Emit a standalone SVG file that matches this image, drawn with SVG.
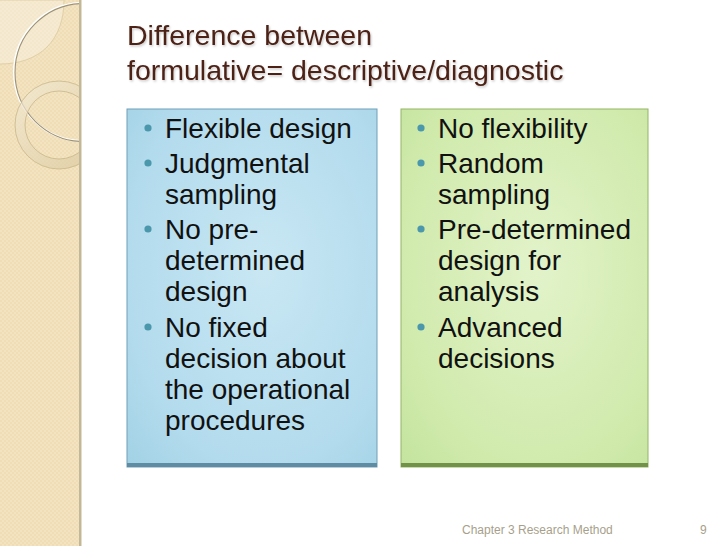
<svg xmlns="http://www.w3.org/2000/svg" width="728" height="546" viewBox="0 0 728 546">
  <defs>
    <pattern id="dots" width="4" height="4" patternUnits="userSpaceOnUse">
      <rect width="4" height="4" fill="#f3e3bf"/>
      <circle cx="1" cy="1" r="0.8" fill="#e9d6ab"/>
      <circle cx="3" cy="3" r="0.8" fill="#e9d6ab"/>
    </pattern>
    <radialGradient id="blueG" cx="0.55" cy="0.45" r="0.8">
      <stop offset="0" stop-color="#c9e7f3"/>
      <stop offset="0.7" stop-color="#b2dbed"/>
      <stop offset="1" stop-color="#a0d0e4"/>
    </radialGradient>
    <radialGradient id="greenG" cx="0.55" cy="0.45" r="0.8">
      <stop offset="0" stop-color="#e2f3ca"/>
      <stop offset="0.7" stop-color="#d0eaac"/>
      <stop offset="1" stop-color="#c2e39c"/>
    </radialGradient>
    <linearGradient id="ringG" x1="0" y1="0" x2="1" y2="1">
      <stop offset="0" stop-color="#f4ecd8"/>
      <stop offset="1" stop-color="#d9c699"/>
    </linearGradient>
    <filter id="tshadow" x="-5%" y="-20%" width="110%" height="150%">
      <feDropShadow dx="1" dy="1.5" stdDeviation="1" flood-color="#000" flood-opacity="0.22"/>
    </filter>
    <clipPath id="stripClip"><rect x="0" y="0" width="80" height="546"/></clipPath>
  </defs>
  <style>
    .body { font-family: "Liberation Sans", Arial, sans-serif; font-size: 28px; fill: #111; }
    .title { font-family: "Liberation Sans", Arial, sans-serif; font-size: 28.5px; fill: #4e2318; }
    .foot { font-family: "Liberation Sans", Arial, sans-serif; font-size: 12px; fill: #a79f8b; }
    .bullet { fill: #4b98ad; }
  </style>

  <rect width="728" height="546" fill="#ffffff"/>

  <g id="sidebar">
    <rect x="0" y="0" width="80" height="546" fill="url(#dots)"/>
    <g clip-path="url(#stripClip)">
      <path d="M0,0 H64 C64,40 40,64 0,64 Z" fill="#ffffff" fill-opacity="0.3"/>
      <path d="M0,0 H64 C64,40 40,64 0,64" fill="none" stroke="#e0cfa6" stroke-width="1"/>
      <circle cx="83" cy="72" r="69" fill="none" stroke="#ffffff" stroke-width="2"/>
      <circle cx="84" cy="72.5" r="69" fill="none" stroke="#9e9276" stroke-width="1.1"/>
      <path fill-rule="evenodd" fill="url(#ringG)" fill-opacity="0.7" stroke="#c9b68a" stroke-width="0.8" d="M15,125 a44,44 0 1,0 88,0 a44,44 0 1,0 -88,0 Z M25,125 a34,34 0 1,0 68,0 a34,34 0 1,0 -68,0 Z"/>
    </g>
    <rect x="79" y="0" width="2" height="546" fill="#c2b796"/>
    <rect x="81" y="0" width="1" height="546" fill="#e2dccb"/>
  </g>

  <g id="title" filter="url(#tshadow)">
    <text class="title" x="127" y="45">Difference between</text>
    <text class="title" x="127" y="80">formulative= descriptive/diagnostic</text>
  </g>

  <g id="box-left">
    <rect x="127" y="109" width="250" height="358" fill="url(#blueG)" stroke="#6f9fb6" stroke-width="1"/>
    <rect x="127" y="463" width="250" height="4" fill="#5f8ca3"/>
    <circle class="bullet" cx="148" cy="128" r="3.6"/>
    <text class="body" x="165" y="138">Flexible design</text>
    <circle class="bullet" cx="148" cy="163" r="3.6"/>
    <text class="body" x="165" y="173">Judgmental</text>
    <text class="body" x="165" y="204">sampling</text>
    <circle class="bullet" cx="148" cy="229" r="3.6"/>
    <text class="body" x="165" y="239">No pre-</text>
    <text class="body" x="165" y="270">determined</text>
    <text class="body" x="165" y="301">design</text>
    <circle class="bullet" cx="148" cy="327" r="3.6"/>
    <text class="body" x="165" y="337">No fixed</text>
    <text class="body" x="165" y="368">decision about</text>
    <text class="body" x="165" y="399">the operational</text>
    <text class="body" x="165" y="430">procedures</text>
  </g>

  <g id="box-right">
    <rect x="401" y="109" width="247" height="358" fill="url(#greenG)" stroke="#94b466" stroke-width="1"/>
    <rect x="401" y="463" width="247" height="4" fill="#72924a"/>
    <circle class="bullet" cx="421" cy="128" r="3.6"/>
    <text class="body" x="438" y="138">No flexibility</text>
    <circle class="bullet" cx="421" cy="163" r="3.6"/>
    <text class="body" x="438" y="173">Random</text>
    <text class="body" x="438" y="204">sampling</text>
    <circle class="bullet" cx="421" cy="229" r="3.6"/>
    <text class="body" x="438" y="239">Pre-determined</text>
    <text class="body" x="438" y="270">design for</text>
    <text class="body" x="438" y="301">analysis</text>
    <circle class="bullet" cx="421" cy="327" r="3.6"/>
    <text class="body" x="438" y="337">Advanced</text>
    <text class="body" x="438" y="368">decisions</text>
  </g>

  <g id="connectors"></g>

  <g id="footer">
    <text class="foot" x="462" y="534">Chapter 3 Research Method</text>
    <text class="foot" x="700" y="534">9</text>
  </g>
</svg>
